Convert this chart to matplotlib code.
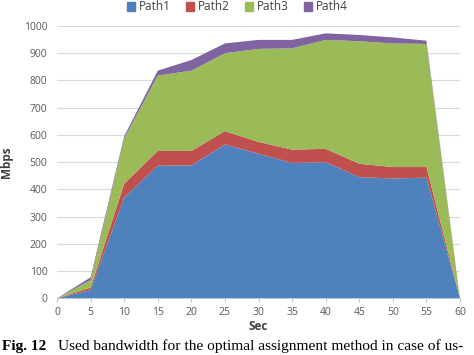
import numpy as np
import matplotlib
matplotlib.use("Agg")
import matplotlib.pyplot as plt
from matplotlib.patches import Patch

# ── data (Mbps, stacked) ─────────────────────────────────────────────────────
sec   = [0, 5, 10, 15, 20, 25, 30, 35, 40, 45, 50, 55, 60]
path1 = [0, 30, 370, 487, 488, 565, 531, 497, 500, 445, 440, 443, 0]
path2 = [0,  9,  51,  54,  53,  49,  43,  49,  49,  49,  42,  39, 0]
path3 = [0, 28, 166, 277, 295, 286, 342, 372, 400, 450, 454, 452, 0]
path4 = [0, 10,   8,  18,  39,  36,  33,  31,  24,  23,  22,  12, 0]
names  = ["Path1", "Path2", "Path3", "Path4"]
colors = ["#4F81BD", "#C0504D", "#9BBB59", "#8064A2"]

yticks = list(range(0, 1001, 100))
xticks = list(range(0, 61, 5))

fig = plt.figure(figsize=(4.74, 3.55), dpi=100)
ax = fig.add_axes([0.1203, 0.1597, 0.8502, 0.7671])

ax.stackplot(sec, path1, path2, path3, path4, colors=colors, lw=0, zorder=2)

ax.set_xlim(0, 60)
ax.set_ylim(0, 1000)
ax.set_xticks(xticks)
ax.set_yticks(yticks)
ax.grid(axis="y", color="#D9D9D9", lw=0.8, zorder=0)
for s in ("top", "right", "left"):
    ax.spines[s].set_visible(False)
ax.spines["bottom"].set_color("#B9C7DB")
ax.tick_params(axis="y", length=0, pad=7, labelsize=7.5, labelcolor="#595959")
ax.tick_params(axis="x", length=3, color="#B9C7DB", pad=3, labelsize=7.5,
               labelcolor="#595959")
for t in ax.get_xticklabels() + ax.get_yticklabels():
    t.set_family("Open Sans")

ax.set_xlabel("Sec", fontsize=8.5, fontweight="bold", color="#404040",
              family="Open Sans", labelpad=2)
ax.set_ylabel("Mbps", fontsize=8.5, fontweight="bold", color="#404040",
              family="Open Sans")
ax.yaxis.set_label_coords(-0.108, 0.5)

handles = [Patch(color=c, label=n) for c, n in zip(colors, names)]
fig.legend(handles=handles, loc="center", bbox_to_anchor=(0.5, 1 - 7 / 355),
           ncol=4, frameon=False, handlelength=0.7,
           handleheight=0.7, handletextpad=0.3, columnspacing=1.3,
           labelcolor="#404040", prop={"family": "Open Sans", "size": 8.5})

fig.text(0.004, 1 - 350 / 355, "Fig. 12", fontsize=11.1, fontweight="bold",
         family="Liberation Serif", va="baseline", ha="left")
fig.text(0.122, 1 - 350 / 355,
         "Used bandwidth for the optimal assignment method in case of us-",
         fontsize=11.1, family="Liberation Serif", va="baseline", ha="left")

fig.savefig("out.png", dpi=100)
